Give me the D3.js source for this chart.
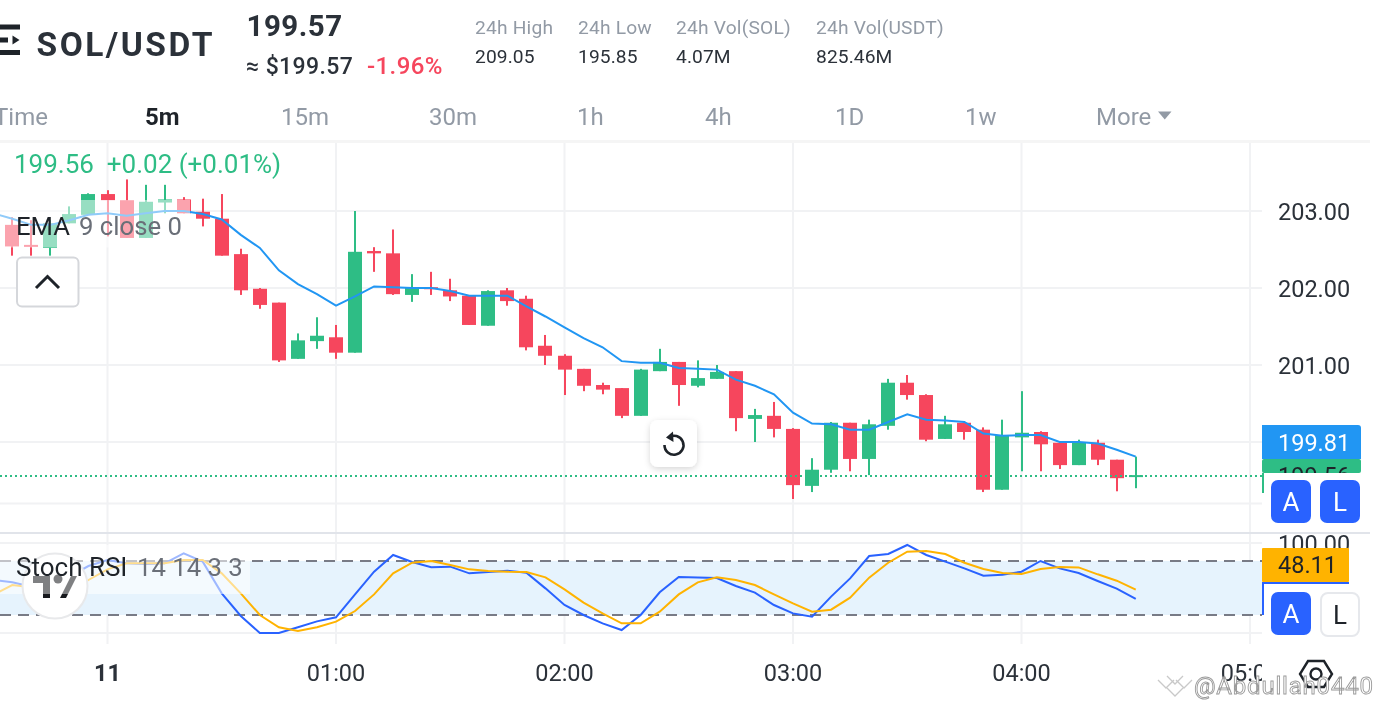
<!DOCTYPE html>
<html><head><meta charset="utf-8">
<script src="https://cdn.jsdelivr.net/npm/d3@7/dist/d3.min.js"></script>
<style>
html,body{margin:0;padding:0;background:#fff;overflow:hidden}
svg{display:block;font-family:Roboto,sans-serif;filter:blur(0.35px)}
</style></head><body>
<svg id="c" width="1382" height="708"></svg>
<script>
const firstIndex = -6, minutesPerBar = 5;
const opens  = [203.21,202.82,202.56,202.52,202.84,202.95,203.22,203.14,202.65,203.11,203.15,202.99,202.90,202.44,201.99,201.81,201.08,201.31,201.36,201.16,202.48,202.45,201.91,202.01,201.97,201.90,201.51,201.97,201.86,201.25,201.12,200.95,200.74,200.70,200.34,200.92,201.04,200.73,200.82,200.92,200.30,200.34,200.17,199.43,199.64,200.25,199.78,200.21,200.77,200.61,200.04,200.25,200.16,199.38,200.06,200.13,199.99,199.70,199.99,199.77,199.55];
const closes = [202.95,202.54,202.54,202.84,202.96,203.22,203.14,202.65,203.12,203.15,202.97,202.90,202.42,201.97,201.78,201.06,201.32,201.38,201.16,202.47,202.45,201.92,202.00,201.99,201.89,201.52,201.96,201.83,201.23,201.12,200.94,200.73,200.68,200.34,200.94,201.04,200.74,200.83,200.91,200.31,200.35,200.17,199.44,199.64,200.25,199.78,200.23,200.77,200.61,200.03,200.23,200.13,199.38,200.09,200.12,199.97,199.70,199.99,199.77,199.53,199.57];
const highs  = [203.21,202.92,202.88,202.88,203.06,203.23,203.27,203.41,203.34,203.34,203.18,203.16,203.22,202.51,202.00,201.81,201.41,201.62,201.52,203.00,202.53,202.76,202.18,202.21,202.12,201.90,201.97,202.00,201.90,201.39,201.14,200.95,200.77,200.70,200.95,201.21,201.04,201.06,201.00,200.92,200.43,200.52,200.18,199.79,200.26,200.25,200.29,200.82,200.87,200.62,200.34,200.25,200.19,200.29,200.66,200.14,199.99,200.03,200.03,199.77,199.81];
const lows   = [202.95,202.42,202.42,202.42,202.84,202.95,202.67,202.65,202.65,202.97,202.97,202.80,202.42,201.91,201.73,201.04,201.08,201.21,201.08,201.16,202.21,201.91,201.82,201.91,201.83,201.52,201.51,201.77,201.19,201.00,200.61,200.66,200.62,200.31,200.34,200.92,200.47,200.71,200.82,200.14,200.00,200.06,199.26,199.35,199.60,199.62,199.57,200.16,200.55,200.01,200.04,200.03,199.35,199.38,199.62,199.62,199.65,199.70,199.70,199.36,199.40];
const ema    = [202.97,202.90,202.82,202.82,202.88,202.95,202.97,202.94,202.97,203.00,203.00,202.96,202.89,202.69,202.52,202.23,202.05,201.92,201.77,201.89,202.02,202.01,202.00,202.00,201.96,201.90,201.90,201.90,201.76,201.63,201.49,201.35,201.23,201.05,201.03,201.03,200.96,200.95,200.94,200.81,200.73,200.62,200.38,200.24,200.23,200.16,200.16,200.26,200.36,200.29,200.28,200.26,200.11,200.08,200.09,200.09,200.00,200.00,199.98,199.90,199.81];
const stochK = [58.9,56.3,51.5,40.4,62.6,74.4,81.1,77.4,76.7,77.4,88.5,79.3,44.1,18.9,0,0,6.3,12.9,17.4,42.9,68.1,86.7,78.9,73.0,73.7,66.3,67.8,69.3,67.0,49.6,31.1,20.0,10.7,3.3,20.0,45.2,62.2,61.8,61.1,52.2,44.8,31.1,21.8,18.1,40.4,60.7,85.5,87.8,97.8,86.7,79.3,71.8,63.7,64.8,68.1,80.0,71.8,66.7,57.8,49.3,37.8];
const stochD = [42.2,53.3,50.7,38.5,45.9,58.9,70.7,77.4,77.4,77.4,81.1,81.1,66.3,44.1,20.0,6.3,2.2,6.3,12.6,24.4,42.9,66.3,78.1,80.0,75.5,70.7,68.9,68.1,67.8,61.8,48.5,33.7,21.8,10.7,10.7,23.7,42.9,56.3,61.8,58.9,53.3,42.9,32.9,23.7,25.9,39.3,61.5,78.1,90.4,91.1,87.8,78.1,71.1,66.7,65.5,71.1,73.3,72.9,65.2,58.1,48.11];
const priceTicks = [203,202,201,200];
const priceGridExtra = [199.2];
const stochTicks = [100];
const stochGrid = [100,0];
const stochBands = [80,20];
const timeTicks = [0,60,120,180,240,300];
const timeLabels = ["11","01:00","02:00","03:00","04:00","05:00"];
const lastClose = 199.56, lastEma = 199.81;
const tabs = [["Time",-6,false],["5m",145,true],["15m",281,false],["30m",429,false],["1h",577,false],["4h",705,false],["1D",835,false],["1w",965,false],["More",1096,false]];
const stats = [["24h High","209.05",475],["24h Low","195.85",578],["24h Vol(SOL)","4.07M",676],["24h Vol(USDT)","825.46M",816]];

const GREEN="#2ebd85", RED="#f6465d", DARK="#1e2329", GRAY="#929aa5", BLUE="#2962ff";
const svg = d3.select("#c");
const x = d3.scaleLinear().domain([0,300]).range([107.5,1250]);
const y = d3.scaleLinear().domain([200,203]).range([442,211]);
const ys = d3.scaleLinear().domain([0,100]).range([633,543]);
const PLOT_R = 1262;
const bars = opens.map((o,k)=>({t:(firstIndex+k)*minutesPerBar,o,c:closes[k],h:highs[k],l:lows[k],e:ema[k],k:stochK[k],d:stochD[k]}));

const defs = svg.append("defs");
defs.append("clipPath").attr("id","plotP").append("rect").attr("x",0).attr("y",141).attr("width",PLOT_R).attr("height",392);
defs.append("clipPath").attr("id","plotS").append("rect").attr("x",0).attr("y",534).attr("width",PLOT_R).attr("height",111);
defs.append("clipPath").attr("id","axisX").append("rect").attr("x",0).attr("y",650).attr("width",PLOT_R).attr("height",50);
defs.append("clipPath").attr("id","greenTag").append("rect").attr("x",1262).attr("y",459).attr("width",100).attr("height",14);
const sh = defs.append("filter").attr("id","shadow").attr("x","-30%").attr("y","-30%").attr("width","160%").attr("height","170%");
sh.append("feDropShadow").attr("dx",0).attr("dy",2).attr("stdDeviation",3).attr("flood-color","#000").attr("flood-opacity",0.16);

// top strip
svg.append("rect").attr("x",0).attr("y",140).attr("width",1370).attr("height",3).attr("fill","#f5f5f5");

// header
const hdr = svg.append("g");
hdr.append("rect").attr("x",0).attr("y",24.5).attr("width",20).attr("height",5).attr("fill","#1e2329");
hdr.append("rect").attr("x",0).attr("y",50).attr("width",20).attr("height",5).attr("fill","#1e2329");
hdr.append("rect").attr("x",0).attr("y",37.5).attr("width",8).attr("height",5).attr("fill","#1e2329");
hdr.append("path").attr("d","M12.5 35.5L19.5 40L12.5 44.5Z").attr("fill","#1e2329");
function T(sel,s,xp,yp,size,fill,weight,anchor,ls){
  return sel.append("text").attr("x",xp).attr("y",yp).attr("font-size",size).attr("fill",fill)
    .attr("font-weight",weight||400).attr("text-anchor",anchor||"start").attr("dominant-baseline","central")
    .style("letter-spacing",ls?ls+"px":null).text(s);
}
T(hdr,"SOL/USDT",36.5,44,33.5,"#2b3139",700,"start",2.5);
T(hdr,"199.57",246.5,26,29.5,"#2b3139",700,"start",0.5);
T(hdr,"≈ $199.57",246,66,23,"#2b3139",500,"start",0.4);
T(hdr,"-1.96%",367,66,24,RED,500,"start",0.4);
stats.forEach(s=>{T(hdr,s[0],s[2],27,19.2,GRAY,400,"start",0.2);T(hdr,s[1],s[2],56,19.2,"#2b3139",400,"start",0.1);});
tabs.forEach(t=>T(hdr,t[0],t[1],117,24,t[2]?"#1e2329":GRAY,t[2]?700:400,"start",0));
hdr.append("path").attr("d","M1158 111.5h13.5l-6.75 8z").attr("fill",GRAY);

// grids
const grid = svg.append("g").attr("stroke","#f1f2f4").attr("stroke-width",2).attr("fill","none");
[...priceTicks,...priceGridExtra].forEach(v=>grid.append("line").attr("x1",0).attr("x2",PLOT_R).attr("y1",y(v)).attr("y2",y(v)));
stochGrid.forEach(v=>grid.append("line").attr("x1",0).attr("x2",PLOT_R).attr("y1",ys(v)).attr("y2",ys(v)));
timeTicks.forEach(v=>grid.append("line").attr("x1",x(v)).attr("x2",x(v)).attr("y1",143).attr("y2",644));
svg.append("line").attr("x1",0).attr("x2",1370).attr("y1",533).attr("y2",533).attr("stroke","#e1e4ea").attr("stroke-width",2);

// price pane
const pp = svg.append("g").attr("clip-path","url(#plotP)");
const cs = pp.selectAll("g.c").data(bars).join("g").attr("class","c");
cs.append("rect").attr("x",d=>Math.round(x(d.t))-1).attr("width",2).attr("y",d=>y(d.h)).attr("height",d=>y(d.l)-y(d.h))
  .attr("fill",d=>d.c>=d.o?GREEN:RED);
cs.append("rect").attr("x",d=>Math.round(x(d.t))-7).attr("width",14).attr("y",d=>y(Math.max(d.o,d.c)))
  .attr("height",d=>Math.max(2,Math.abs(y(d.o)-y(d.c)))).attr("fill",d=>d.c>=d.o?GREEN:RED);
pp.append("path").datum(bars).attr("fill","none").attr("stroke","#2196f3").attr("stroke-width",2)
  .attr("d",d3.line().x(d=>x(d.t)).y(d=>y(d.e)));
pp.append("line").attr("x1",0).attr("x2",PLOT_R).attr("y1",y(lastClose)).attr("y2",y(lastClose))
  .attr("stroke",GREEN).attr("stroke-width",2).attr("stroke-dasharray","2 3");

// stoch pane
const sp = svg.append("g").attr("clip-path","url(#plotS)");
sp.append("rect").attr("x",0).attr("width",PLOT_R).attr("y",ys(stochBands[0])).attr("height",ys(stochBands[1])-ys(stochBands[0])).attr("fill","#e6f3fd");
stochBands.forEach(v=>sp.append("line").attr("x1",0).attr("x2",PLOT_R).attr("y1",ys(v)).attr("y2",ys(v))
  .attr("stroke","#787b86").attr("stroke-width",2).attr("stroke-dasharray","11 7"));
sp.append("path").datum(bars).attr("fill","none").attr("stroke",BLUE).attr("stroke-width",2)
  .attr("d",d3.line().x(d=>x(d.t)).y(d=>ys(d.k)));
sp.append("path").datum(bars).attr("fill","none").attr("stroke","#ffb300").attr("stroke-width",2)
  .attr("d",d3.line().x(d=>x(d.t)).y(d=>ys(d.d)));

// legends
svg.append("rect").attr("x",0).attr("y",200).attr("width",190).attr("height",47.5).attr("fill","#fff").attr("opacity",0.5);
T(svg,"199.56  +0.02 (+0.01%)",14,164,26,GREEN,400).style("white-space","pre");
T(svg,"EMA",16,226,25.7,DARK,400);
T(svg,"9 close 0",79,226,25.7,"#6a6f78",400);
const up = svg.append("g");
up.append("rect").attr("x",17).attr("y",257.5).attr("width",61.5).attr("height",49).attr("rx",5).attr("fill","#fff").attr("stroke","#d5d7db").attr("stroke-width",2);
up.append("path").attr("d","M36 288L47.5 276.5L59 288").attr("fill","none").attr("stroke","#1e2329").attr("stroke-width",3);

// stoch legend and logo
svg.append("rect").attr("x",0).attr("y",545).attr("width",250).attr("height",49).attr("fill","#fff").attr("opacity",0.55);
const logo = svg.append("g");
logo.append("circle").attr("cx",55).attr("cy",586).attr("r",32.5).attr("fill","#fff").attr("stroke","#e8e9eb").attr("stroke-width",2);
logo.append("path").attr("d","M33 576H50V598H43V583H33ZM60 598L71 576H77L66 598Z").attr("fill","#17191d");
logo.append("circle").attr("cx",58).attr("cy",579).attr("r",4.5).attr("fill","#17191d");
logo.append("rect").attr("x",30).attr("y",574).attr("width",50).attr("height",20).attr("fill","#fff").attr("opacity",0.45);
T(svg,"Stoch RSI",16,567,26,DARK,400);
T(svg,"14 14 3 3",137,567,25.7,"#6a6f78",400);

// reset button
const rb = svg.append("g");
rb.append("rect").attr("x",650).attr("y",420).attr("width",47).attr("height",47).attr("rx",8).attr("fill","#fff").attr("filter","url(#shadow)");
rb.append("path").attr("d","M668.5 437.5A9.5 9.5 0 1 1 664.5 445").attr("fill","none").attr("stroke","#1e2329").attr("stroke-width",2.6);
rb.append("path").attr("d","M673 431.5L666 437.5L673.5 442Z").attr("fill","#1e2329");

// axes
const axisStyle = g=>{g.select(".domain").remove();g.selectAll("text").attr("font-size",23.5).attr("fill","#2b3139").attr("font-family","Roboto,sans-serif");};
svg.append("g").attr("transform","translate(1278,0.8)")
  .call(d3.axisRight(y).tickValues(priceTicks).tickSize(0).tickPadding(0).tickFormat(d3.format(".2f"))).call(axisStyle);
svg.append("g").attr("transform","translate(1278,0.8)")
  .call(d3.axisRight(ys).tickValues(stochTicks).tickSize(0).tickPadding(0).tickFormat(d3.format(".2f"))).call(axisStyle);
svg.append("g").attr("clip-path","url(#axisX)").append("g").attr("transform","translate(-0.5,664)")
  .call(d3.axisBottom(x).tickValues(timeTicks).tickSize(0).tickPadding(0).tickFormat((d,i)=>timeLabels[i])).call(axisStyle)
  .call(g=>g.selectAll("text").filter((d,i)=>i===0).attr("font-weight",700));

// price tags
const tag = svg.append("g");
tag.append("path").attr("d","M1262 459V425H1358a3 3 0 0 1 3 3V459Z").attr("fill","#2196f3");
tag.append("rect").attr("x",1262).attr("y",459).attr("width",99).attr("height",14).attr("rx",2).attr("fill",GREEN);
T(tag,d3.format(".2f")(lastClose),1278,476,23.5,"#1e2329",400).attr("clip-path","url(#greenTag)");
T(tag,d3.format(".2f")(lastEma),1278,443,23.5,"#fff",400);
tag.append("rect").attr("x",1262).attr("y",473).attr("width",2).attr("height",20).attr("fill",GREEN);
function btn(xp,yp,w,label,on){
  tag.append("rect").attr("x",xp).attr("y",yp).attr("width",w).attr("height",43).attr("rx",7)
    .attr("fill",on?BLUE:"#fff").attr("stroke",on?BLUE:"#e6e8ec").attr("stroke-width",on?0:2);
  T(tag,label,xp+w/2,yp+22,26,on?"#fff":"#1e2329",400,"middle");
}
btn(1271,480,40,"A",true); btn(1320,480,40,"L",true);
tag.append("rect").attr("x",1262).attr("y",548).attr("width",87).attr("height",34).attr("rx",1).attr("fill","#ffb300");
T(tag,d3.format(".2f")(stochD[stochD.length-1]),1278,565,23.5,"#1e2329",400);
tag.append("rect").attr("x",1262).attr("y",582).attr("width",87).attr("height",2).attr("fill",BLUE);
tag.append("rect").attr("x",1262).attr("y",582).attr("width",2).attr("height",33).attr("fill",BLUE);
btn(1271,592,40,"A",true); btn(1321,593,38,"L",false);

// settings icon
const ic = svg.append("g");
ic.append("path").attr("d","M1308 661H1324L1332 674L1324 687H1308L1300 674Z").attr("fill","none").attr("stroke","#1e2329").attr("stroke-width",2.4);
ic.append("circle").attr("cx",1316).attr("cy",674).attr("r",5.5).attr("fill","none").attr("stroke","#1e2329").attr("stroke-width",2.4);

// watermark
const wm = svg.append("g");
[[1175,680],[1166,684],[1184,684],[1175,692]].forEach(p=>wm.append("path")
  .attr("d",`M${p[0]-8} ${p[1]-4}L${p[0]} ${p[1]+4}L${p[0]+8} ${p[1]-4}`).attr("fill","none").attr("stroke","#c9c9c9").attr("stroke-width",1.3));
T(wm,"@Abdullah0440",1194,686,24,"#fff",400).attr("stroke","#9a9a9a").attr("stroke-width",0.9).style("letter-spacing","0.8px");
</script>
</body></html>
